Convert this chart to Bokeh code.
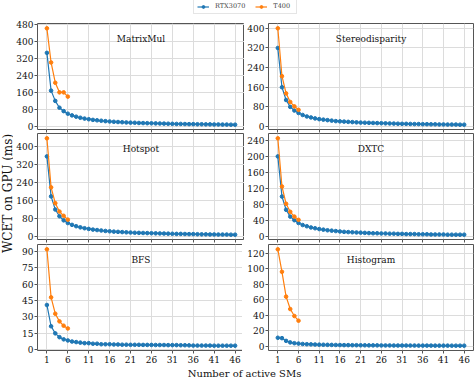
import numpy as np
from bokeh.plotting import figure
from bokeh.models import Range1d, FixedTicker, Label, Legend, LegendItem
from bokeh.layouts import row, column
from bokeh.embed import file_html
from bokeh.resources import INLINE
from bokeh.core.properties import value

# ---------------- data ----------------
sms = list(range(1, 47))
t400_sms = list(range(1, 7))
x_ticks = [1, 6, 11, 16, 21, 26, 31, 36, 41, 46]

matrixmul_rtx = [345, 168, 120, 88, 72, 60, 52, 46, 41, 37, 34, 31, 29, 27, 25, 23.5, 22, 21, 20, 19,
                 18, 17.5, 16.5, 16, 15.5, 15, 14.5, 14, 13.5, 13, 12.5, 12, 12, 11.5, 11, 11, 10.5,
                 10.5, 10, 10, 9.5, 9.5, 9, 9, 8.5, 8.5]
matrixmul_t400 = [460, 300, 205, 160, 160, 140]
matrixmul_ticks = [0, 80, 160, 240, 320, 400, 480]

stereo_rtx = [320, 160, 108, 80, 65, 55, 47, 41, 37, 33, 30, 28, 26, 24, 22, 21, 20, 19, 18, 17,
              16, 15.5, 15, 14.5, 14, 13.5, 13, 12.5, 12, 11.5, 11, 11, 10.5, 10, 10, 9.5, 9.5, 9,
              9, 8.5, 8.5, 8, 8, 8, 7.5, 7.5]
stereo_t400 = [400, 205, 135, 100, 82, 68]
stereo_ticks = [0, 80, 160, 240, 320, 400]

hotspot_rtx = [355, 178, 120, 90, 72, 60, 52, 46, 41, 37, 34, 31, 29, 27, 25, 23.5, 22, 21, 20, 19,
               18, 17, 16.5, 16, 15.5, 15, 14.5, 14, 13.5, 13, 12.5, 12, 12, 11.5, 11, 11, 10.5, 10,
               10, 9.5, 9.5, 9, 9, 9, 8.5, 8.5]
hotspot_t400 = [435, 218, 148, 111, 92, 75]
hotspot_ticks = [0, 80, 160, 240, 320, 400]

dxtc_rtx = [200, 100, 67, 50, 41, 34, 29, 26, 23, 21, 19, 17.5, 16, 15, 14, 13, 12, 11.5, 11, 10.5,
            10, 9.5, 9, 8.5, 8.5, 8, 8, 7.5, 7.5, 7, 7, 6.5, 6.5, 6.5, 6, 6, 6, 5.5, 5.5, 5.5, 5.5,
            5, 5, 5, 5, 5]
dxtc_t400 = [245, 125, 82, 62, 50, 42]
dxtc_ticks = [0, 40, 80, 120, 160, 200, 240]

bfs_rtx = [41, 21.5, 15, 11.5, 9.5, 8.5, 7.5, 7, 6.5, 6, 6, 5.5, 5.5, 5, 5, 5, 4.8, 4.8, 4.6, 4.6,
           4.5, 4.5, 4.5, 4.4, 4.4, 4.4, 4.3, 4.3, 4.3, 4.2, 4.2, 4.2, 4.1, 4.1, 4, 3.8, 3.8, 3.8,
           3.8, 3.8, 3.7, 3.7, 3.7, 3.7, 3.7, 3.7]
bfs_t400 = [92, 48, 33, 26, 22, 19.5]
bfs_ticks = [0, 15, 30, 45, 60, 75, 90]

hist_rtx = [11, 10.5, 7, 5, 4, 3.5, 3, 2.7, 2.5, 2.3, 2.1, 2, 1.9, 1.8, 1.7, 1.6, 1.5, 1.5, 1.4, 1.4,
            1.3, 1.3, 1.2, 1.2, 1.2, 1.1, 1.1, 1.1, 1, 1, 1, 1, 0.95, 0.95, 0.9, 0.9, 0.9, 0.9, 0.85,
            0.85, 0.85, 0.85, 0.8, 0.8, 0.8, 0.8]
hist_t400 = [125, 96, 64, 48, 39, 33]
hist_ticks = [0, 20, 40, 60, 80, 100, 120]

series_names = ["RTX3070", "T400"]
y_label = "WCET on GPU (ms)"
x_label = "Number of active SMs"

# ---------------- style ----------------
FONT = "DejaVu Serif"
BLUE = "#1f77b4"
ORANGE = "#ff7f0e"
GRID = "#dcdcdc"
SPINE = "#555555"
FH = 106
TOPB = [4, 0, 0]
BOTB = [4, 5, 16]


def panel(name, rtx, t400, yticks, col, rowi):
    lo = min(rtx + t400)
    hi = max(rtx + t400)
    pad = 0.05 * (hi - lo)
    y0, y1 = lo - pad, hi + pad
    p = figure(frame_width=207 if col == 0 else 205, frame_height=FH,
               x_range=Range1d(-1.25, 48.25), y_range=Range1d(y0, y1),
               output_backend="svg", toolbar_location=None,
               min_border_left=22 if col == 0 else 24, min_border_right=0 if col == 0 else 3,
               min_border_top=TOPB[rowi], min_border_bottom=BOTB[rowi])
    p.background_fill_color = "white"
    p.border_fill_color = "white"
    p.outline_line_color = SPINE
    p.outline_line_width = 1

    if rowi == 2:
        p.xaxis.ticker = FixedTicker(ticks=x_ticks)
    else:
        p.xaxis.ticker = FixedTicker(ticks=[], minor_ticks=x_ticks)
    p.yaxis.ticker = FixedTicker(ticks=yticks)
    p.xgrid.ticker = FixedTicker(ticks=x_ticks)
    p.ygrid.ticker = FixedTicker(ticks=yticks)
    p.grid.grid_line_color = GRID
    p.grid.grid_line_width = 1
    for ax in (p.xaxis, p.yaxis):
        ax.axis_line_color = None
        ax.major_tick_out = 3
        ax.major_tick_in = 0
        ax.minor_tick_line_color = None
        ax.major_tick_line_color = SPINE
        ax.major_label_text_font = FONT
        ax.major_label_text_font_size = "9px"
        ax.major_label_text_color = "#111111"
        ax.major_label_standoff = 1
    p.xaxis.major_label_standoff = 2
    if rowi != 2:
        p.xaxis.minor_tick_line_color = SPINE
        p.xaxis.minor_tick_out = 3
        p.xaxis.minor_tick_in = 0

    p.line(sms, rtx, line_color=BLUE, line_width=1.2)
    p.scatter(sms, rtx, size=3.6, fill_color=BLUE, line_color=BLUE)
    p.line(t400_sms, t400, line_color=ORANGE, line_width=1.2)
    p.scatter(t400_sms, t400, size=3.6, fill_color=ORANGE, line_color=ORANGE)

    p.add_layout(Label(x=23.5, y=y1 - 0.145 * (y1 - y0), text=name,
                       text_align="center", text_baseline="middle",
                       text_font=FONT, text_font_size="9px", text_color="#111111"))
    return p


p1 = panel("MatrixMul", matrixmul_rtx, matrixmul_t400, matrixmul_ticks, 0, 0)
p2 = panel("Stereodisparity", stereo_rtx, stereo_t400, stereo_ticks, 1, 0)
p3 = panel("Hotspot", hotspot_rtx, hotspot_t400, hotspot_ticks, 0, 1)
p4 = panel("DXTC", dxtc_rtx, dxtc_t400, dxtc_ticks, 1, 1)
p5 = panel("BFS", bfs_rtx, bfs_t400, bfs_ticks, 0, 2)
p6 = panel("Histogram", hist_rtx, hist_t400, hist_ticks, 1, 2)

# legend strip
lf = figure(frame_width=474, frame_height=19, x_range=Range1d(0, 1), y_range=Range1d(0, 1),
            x_axis_type=None, y_axis_type=None, output_backend="svg", toolbar_location=None,
            min_border=0)
lf.grid.visible = False
lf.outline_line_color = None
r1 = lf.line([-5, -4], [-5, -4], line_color=BLUE, line_width=1.2)
s1 = lf.scatter([-5], [-5], size=3.6, fill_color=BLUE, line_color=BLUE)
r2 = lf.line([-5, -4], [-5, -4], line_color=ORANGE, line_width=1.2)
s2 = lf.scatter([-5], [-5], size=3.6, fill_color=ORANGE, line_color=ORANGE)
legend = Legend(items=[LegendItem(label=series_names[0], renderers=[r1, s1]),
                       LegendItem(label=series_names[1], renderers=[r2, s2])],
                orientation="horizontal", location=(193, 5),
                label_text_font=FONT, label_text_font_size="6.5px",
                glyph_width=12, glyph_height=7, label_height=7, label_standoff=6,
                padding=3, spacing=10, margin=0,
                border_line_color="#cccccc", border_line_width=1,
                background_fill_color="white")
lf.add_layout(legend, "center")

# y label strip
H = (TOPB[0] + FH + BOTB[0]) + (TOPB[1] + FH + BOTB[1]) + (TOPB[2] + FH + BOTB[2])
yl = figure(frame_width=13, frame_height=H, x_range=Range1d(0, 13), y_range=Range1d(0, H),
            x_axis_type=None, y_axis_type=None, output_backend="svg", toolbar_location=None,
            min_border=0)
yl.grid.visible = False
yl.outline_line_color = None
yl.text(x=[7], y=[H - 174], text=[y_label], angle=np.pi / 2,
        text_align="center", text_baseline="middle",
        text_font=value(FONT), text_font_size="12px", text_color="#111111")

# x label strip
xl = figure(frame_width=474, frame_height=15, x_range=Range1d(0, 474), y_range=Range1d(0, 15),
            x_axis_type=None, y_axis_type=None, output_backend="svg", toolbar_location=None,
            min_border=0)
xl.grid.visible = False
xl.outline_line_color = None
xl.text(x=[244], y=[8], text=[x_label], text_align="center", text_baseline="middle",
        text_font=value(FONT), text_font_size="10px", text_color="#111111")

layout = column(lf, row(yl, column(p1, p3, p5), column(p2, p4, p6)), xl)

open("out.html", "w").write(file_html(layout, INLINE))
